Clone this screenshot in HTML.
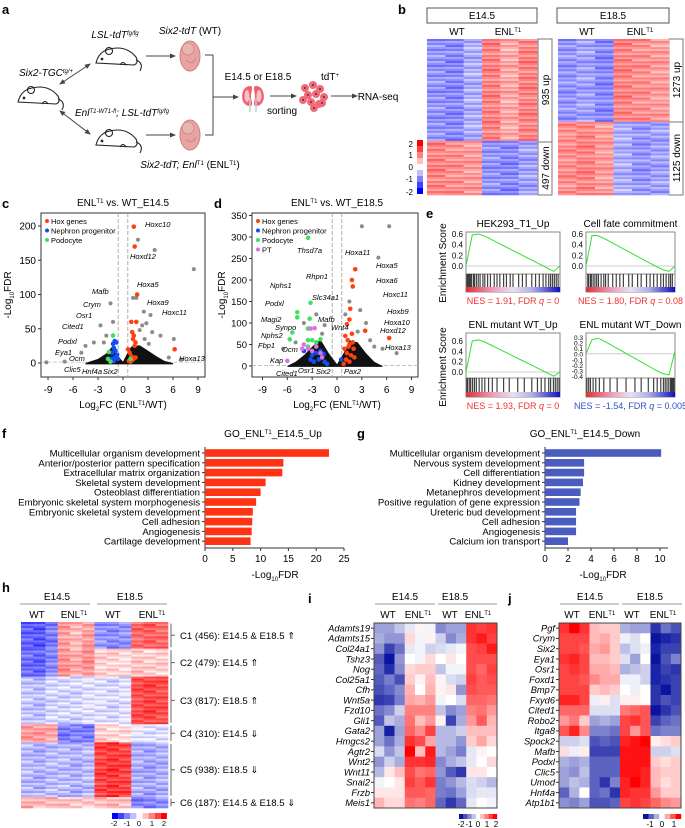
<!DOCTYPE html>
<html><head><meta charset="utf-8">
<style>
body{margin:0;background:#fff}
svg{display:block;font-family:"Liberation Sans",Arial,sans-serif}
.it{font-style:italic}
.pl{font-size:13px;font-weight:bold}
</style></head>
<body>
<svg id="fig" width="685" height="828" viewBox="0 0 685 828">
<defs>
<marker id="arr" markerWidth="6" markerHeight="6" refX="5" refY="3" orient="auto"><path d="M0,0.5 L6,3 L0,5.5z" fill="#444"/></marker>
<marker id="arrs" markerWidth="6" markerHeight="6" refX="1" refY="3" orient="auto"><path d="M6,0.5 L0,3 L6,5.5z" fill="#444"/></marker>
<linearGradient id="rankg" x1="0" x2="1" y1="0" y2="0"><stop offset="0" stop-color="#e03030"/><stop offset="0.3" stop-color="#f0a0c0"/><stop offset="0.5" stop-color="#e8e0f0"/><stop offset="0.7" stop-color="#b0b0e8"/><stop offset="1" stop-color="#1010c0"/></linearGradient>
</defs>
<text class="pl" x="2" y="14">a</text>
<text class="pl" x="398" y="14">b</text>
<text class="pl" x="2" y="208">c</text>
<text class="pl" x="214" y="208">d</text>
<text class="pl" x="426" y="218">e</text>
<text class="pl" x="2" y="438">f</text>
<text class="pl" x="357" y="438">g</text>
<text class="pl" x="2" y="592">h</text>
<text class="pl" x="308" y="603">i</text>
<text class="pl" x="508" y="603">j</text>

<g font-size="10" text-anchor="middle">
<text x="115" y="38" class="it">LSL-tdT<tspan font-size="6" baseline-shift="super">fg/fg</tspan></text>
<text x="190" y="34"><tspan class="it">Six2-tdT</tspan> (WT)</text>
<text x="46" y="76" class="it">Six2-TGC<tspan font-size="6" baseline-shift="super">tg/+</tspan></text>
<text x="122" y="116" class="it">Enl<tspan font-size="6" baseline-shift="super">T1-WT1-fl</tspan>; LSL-tdT<tspan font-size="6" baseline-shift="super">fg/fg</tspan></text>
<text x="258" y="80">E14.5 or E18.5</text>
<text x="330" y="80">tdT<tspan font-size="6" baseline-shift="super">+</tspan></text>
<text x="282" y="114">sorting</text>
<text x="378" y="100">RNA-seq</text>
<text x="190" y="168"><tspan class="it">Six2-tdT; Enl</tspan><tspan font-size="6" baseline-shift="super">T1</tspan> (ENL<tspan font-size="6" baseline-shift="super">T1</tspan>)</text>
</g>
<g stroke="#444" stroke-width="1" fill="none">
<line x1="60" y1="84" x2="90" y2="64" marker-end="url(#arr)" marker-start="url(#arrs)"/>
<line x1="60" y1="111" x2="90" y2="134" marker-end="url(#arr)" marker-start="url(#arrs)"/>
<line x1="146" y1="56" x2="175" y2="56" marker-end="url(#arr)"/>
<line x1="146" y1="135" x2="175" y2="135" marker-end="url(#arr)"/>
<path d="M205,55 H213 V135 H205 M213,97 H238" marker-end="url(#arr)"/>
<line x1="270" y1="96" x2="296" y2="96" marker-end="url(#arr)"/>
<line x1="331" y1="96" x2="357" y2="96" marker-end="url(#arr)"/>
</g>

<g font-size="10" text-anchor="middle">
<rect x="427" y="8" width="110" height="15" fill="#fff" stroke="#555"/>
<text x="482" y="19">E14.5</text>
<rect x="557" y="8" width="112" height="15" fill="#fff" stroke="#555"/>
<text x="613" y="19">E18.5</text>
<text x="457" y="35">WT</text>
<text x="508" y="35">ENL<tspan font-size="6" baseline-shift="super">T1</tspan></text>
<text x="587" y="35">WT</text>
<text x="640" y="35">ENL<tspan font-size="6" baseline-shift="super">T1</tspan></text>
<rect x="538" y="39" width="14" height="103" fill="#fff" stroke="#777"/>
<text transform="translate(549,90) rotate(-90)">935 up</text>
<rect x="538" y="142" width="14" height="53" fill="#fff" stroke="#777"/>
<text transform="translate(549,168) rotate(-90)">497 down</text>
<rect x="669" y="39" width="14" height="83" fill="#fff" stroke="#777"/>
<text transform="translate(680,80) rotate(-90)">1273 up</text>
<rect x="669" y="122" width="14" height="73" fill="#fff" stroke="#777"/>
<text transform="translate(680,158) rotate(-90)">1125 down</text>
</g>
<g font-size="8" text-anchor="end">
<text x="413" y="147">2</text>
<text x="413" y="158">1</text>
<text x="413" y="170">0</text>
<text x="413" y="182">-1</text>
<text x="413" y="195">-2</text>
</g>

<g font-size="10" text-anchor="middle">
<text x="123" y="206">ENL<tspan font-size="6" baseline-shift="super">T1</tspan> vs. WT_E14.5</text>
<text x="337" y="206">ENL<tspan font-size="6" baseline-shift="super">T1</tspan> vs. WT_E18.5</text>
<text x="123" y="408">Log<tspan font-size="6" baseline-shift="sub">2</tspan>FC (ENL<tspan font-size="6" baseline-shift="super">T1</tspan>/WT)</text>
<text x="337" y="408">Log<tspan font-size="6" baseline-shift="sub">2</tspan>FC (ENL<tspan font-size="6" baseline-shift="super">T1</tspan>/WT)</text>
<text transform="translate(11,295) rotate(-90)">-Log<tspan font-size="6" baseline-shift="sub">10</tspan>FDR</text>
<text transform="translate(225,295) rotate(-90)">-Log<tspan font-size="6" baseline-shift="sub">10</tspan>FDR</text>
</g>

<g font-size="10" text-anchor="middle">
<text x="273" y="437">GO_ENL<tspan font-size="6" baseline-shift="super">T1</tspan>_E14.5_Up</text>
<text x="585" y="437">GO_ENL<tspan font-size="6" baseline-shift="super">T1</tspan>_E14.5_Down</text>
<text x="275" y="578">-Log<tspan font-size="6" baseline-shift="sub">10</tspan>FDR</text>
<text x="603" y="578">-Log<tspan font-size="6" baseline-shift="sub">10</tspan>FDR</text>
</g>

<g font-size="10" text-anchor="middle" stroke-width="1">
<text x="57" y="600">E14.5</text>
<text x="130" y="600">E18.5</text>
<line x1="20" y1="604" x2="90" y2="604" stroke="#999"/>
<line x1="97" y1="604" x2="167" y2="604" stroke="#999"/>
<text x="37" y="618">WT</text>
<text x="74" y="618">ENL<tspan font-size="6" baseline-shift="super">T1</tspan></text>
<text x="113" y="618">WT</text>
<text x="152" y="618">ENL<tspan font-size="6" baseline-shift="super">T1</tspan></text>

<text x="405" y="600">E14.5</text>
<text x="455" y="600">E18.5</text>
<line x1="375" y1="604" x2="435" y2="604" stroke="#999"/>
<line x1="438" y1="604" x2="497" y2="604" stroke="#999"/>
<text x="388" y="618">WT</text>
<text x="418" y="618">ENL<tspan font-size="6" baseline-shift="super">T1</tspan></text>
<text x="450" y="618">WT</text>
<text x="478" y="618">ENL<tspan font-size="6" baseline-shift="super">T1</tspan></text>

<text x="590" y="600">E14.5</text>
<text x="650" y="600">E18.5</text>
<line x1="560" y1="604" x2="619" y2="604" stroke="#999"/>
<line x1="622" y1="604" x2="682" y2="604" stroke="#999"/>
<text x="572" y="618">WT</text>
<text x="602" y="618">ENL<tspan font-size="6" baseline-shift="super">T1</tspan></text>
<text x="632" y="618">WT</text>
<text x="663" y="618">ENL<tspan font-size="6" baseline-shift="super">T1</tspan></text>
</g>
</svg>
<script>
// ---------- data ----------
const bCols = ['WT','WT','WT','ENL','ENL','ENL'];
const bE14Counts = [935, 497];
const bE14Up = [-0.8,-0.9,-0.6,1.0,0.7,1.0];
const bE14Down = [1.0,0.9,0.8,-0.8,-0.9,-0.7];
const bE18Counts = [1273, 1125];
const bE18Up = [-0.8,-0.7,-0.9,1.0,0.9,0.8];
const bE18Down = [0.9,1.0,0.8,-0.6,-0.8,-0.7];

const cHox = [[1.3,199],[1.4,170],[1.7,100],[1.0,60],[1.6,60],[6.2,20],[0.6,20],[0.8,15],[1.0,10],[1.2,5],[0.7,3],[1.4,25],[1.5,30],[1.3,40],[1.1,45],[1.2,35],[0.9,2],[1.5,8]];
const cNeph = [[-1.0,32],[-1.2,28],[-0.8,30],[-1.1,22],[-0.9,18],[-1.3,15],[-0.7,12],[-1.0,8],[-0.6,6],[-1.4,6],[-1.1,3]];
const cPod = [[-1.2,40],[-1.7,16],[-1.8,6],[0.9,6],[-1.5,2]];
const cGrey = [[1.8,180],[3.8,165],[8.5,137],[1.2,95],[1.6,95],[2.5,75],[3.3,70],[2.8,58],[2.3,55],[3.5,45],[4.5,40],[6.1,35],[5.5,8],[7,5],[-1.5,87],[-2.7,55],[-3.5,30],[-4.5,25],[-9.2,1],[-7,2],[-5,15],[-2,40],[-1.2,60],[2,48],[2.6,35],[3.1,28],[-2.3,30]];
const cCloud = [[-4.5,0],[-3,6],[-2,14],[-1.3,24],[-0.6,10],[0,2],[0.5,14],[1,24],[2,26],[3,18],[4,10],[5,3],[6,0]];

const dHox = [[2.2,225],[1.8,200],[1.9,185],[1.6,133],[1.5,108],[1.2,97],[3.4,82],[6.3,65],[1.0,70],[1.3,60],[1.8,75],[1.5,50],[0.9,40],[1.2,30],[1.7,25],[2.0,40],[1.1,15],[1.5,10],[0.8,5],[2.1,20],[1.4,45],[1.9,55]];
const dNeph = [[-3,25],[-2.5,30],[-2,35],[-1.8,20],[-1.5,10],[-2.2,15],[-4,35],[-3.2,15],[-1.2,5],[0.5,15],[-2.8,10],[-1.6,28]];
const dPod = [[-3.5,298],[-3.2,147],[-4.8,125],[-4.8,113],[-3.3,110],[-3.5,87],[-5.4,78],[-5.7,62],[-3.5,60],[-3.0,60],[-2.5,55],[-3.5,45],[-2,62]];
const dPT = [[-2.7,88],[-3.2,87],[-6,12],[-4,50],[-3.5,40],[-3,35],[-2.5,45],[-2,30],[-1.8,20],[-4.2,40]];
const dGrey = [[3.0,325],[6.3,325],[5.0,252],[1.5,150],[1.0,120],[2.5,80],[4,60],[5.5,40],[7.2,30],[-4,100],[-2.5,120],[-1.5,95],[-6.5,40],[-5,55],[3.5,100],[2.8,130],[-1.8,75],[4.5,45]];
const dCloud = [[-6,0],[-5,10],[-4,25],[-3,45],[-2,62],[-1,30],[0,4],[0.8,30],[1.5,60],[2.5,55],[3.5,30],[4.5,10],[5.5,0]];

const es1 = [0,0.58,0.6,0.56,0.5,0.44,0.38,0.32,0.26,0.2,0.14,0.08,0.02,-0.04,-0.1,0];
const es2 = [0,0.57,0.57,0.52,0.46,0.4,0.34,0.28,0.22,0.16,0.1,0.04,-0.02,-0.07,-0.1,0];
const es3 = [0,0.6,0.62,0.58,0.52,0.46,0.4,0.34,0.28,0.22,0.16,0.1,0.04,-0.02,-0.08,0];
const es4 = [0,0.25,0.28,0.23,0.17,0.11,0.05,-0.01,-0.07,-0.13,-0.19,-0.25,-0.31,-0.36,-0.38,0.05];
const hits1 = [0.01,0.02,0.03,0.04,0.05,0.06,0.08,0.09,0.11,0.13,0.15,0.18,0.2,0.23,0.26,0.3,0.33,0.36,0.4,0.43,0.47,0.5,0.56,0.6,0.64,0.7,0.74,0.78,0.82,0.85,0.88,0.9,0.92,0.94,0.96,0.98];
const hits2 = [0.02,0.03,0.05,0.06,0.08,0.1,0.12,0.14,0.17,0.2,0.22,0.25,0.3,0.34,0.38,0.42,0.48,0.52,0.58,0.62,0.68,0.72,0.76,0.8,0.84,0.87,0.9,0.93,0.95,0.97];
const hits3 = [0.01,0.02,0.04,0.05,0.07,0.09,0.11,0.14,0.17,0.2,0.24,0.28,0.33,0.4,0.46,0.55,0.62,0.7,0.76,0.8,0.84,0.88,0.9,0.93,0.95,0.97,0.99];
const hits4 = [0.01,0.03,0.05,0.08,0.11,0.15,0.2,0.27,0.35,0.45,0.55,0.62,0.7,0.76,0.8,0.84,0.87,0.89,0.91,0.93,0.95,0.96,0.97,0.98,0.99];

const fTerms = ['Multicellular organism development','Anterior/posterior pattern specification','Extracellular matrix organization','Skeletal system development','Osteoblast differentiation','Embryonic skeletal system morphogenesis','Embryonic skeletal system development','Cell adhesion','Angiogenesis','Cartilage development'];
const fValues = [22.3,14.1,13.9,10.9,10.0,9.2,8.6,8.5,8.4,8.2];
const fTicks = [0,5,10,15,20,25];
const gTerms = ['Multicellular organism development','Nervous system development','Cell differentiation','Kidney development','Metanephros development','Positive regulation of gene expression','Ureteric bud development','Cell adhesion','Angiogenesis','Calcium ion transport'];
const gValues = [10.1,3.4,3.4,3.3,3.1,3.0,2.7,2.7,2.7,2.0];
const gTicks = [0,2,4,6,8,10];

const hCounts = [456,479,817,310,938,187];
const hLabels = ['C1 (456): E14.5 & E18.5 \u21D1','C2 (479): E14.5 \u21D1','C3 (817): E18.5 \u21D1','C4 (310): E14.5 \u21D3','C5 (938): E18.5 \u21D3','C6 (187): E14.5 & E18.5 \u21D3'];
const hMeans = [
 [-1.2,-1.3,-1.0, 0.8,0.6,0.8, -0.8,-0.9,-0.8, 1.2,1.3,1.2],
 [-1.1,-1.2,-0.9, 0.9,0.7,0.9, 0.4,0.4,0.3, 0.5,0.4,0.4],
 [-0.4,-0.5,-0.3, -0.3,-0.3,-0.2, -0.2,-0.3,-0.2, 1.4,1.5,1.4],
 [0.8,0.8,0.7, -1.0,-0.9,-1.0, 0.4,0.3,0.3, -0.1,-0.2,-0.2],
 [-0.5,-0.6,-0.5, -0.5,-0.6,-0.5, 1.5,1.6,1.5, -0.6,-0.7,-0.6],
 [0.7,0.6,0.6, 0.5,0.4,0.5, 0.6,0.6,0.5, -1.0,-1.0,-0.9]];

const iGenes = ['Adamts19','Adamts15','Col24a1','Tshz3','Nog','Col25a1','Cfh','Wnt5a','Fzd10','Gli1','Gata2','Hmgcs2','Agtr2','Wnt2','Wnt11','Snai2','Frzb','Meis1'];
const iValues = [
 [-0.8,-0.8,-0.5,-0.2,0.1,-0.1,-1,-0.8,-0.8,1.6,1.5,1.6],
 [-0.7,-0.9,-0.9,0.3,-0.1,0.1,-0.4,-1,-0.7,1.6,1.8,1.5],
 [-0.9,-1.6,-1.2,-0.2,-0.1,-0.4,-0.3,-0.2,-0.1,1.4,1.5,1.8],
 [-1.4,-2,-0.9,0,-0.1,0.3,0,0.2,0,1.4,1.4,1.4],
 [-1.3,-1.8,-1,0.3,0.4,0.4,-0.5,-0.1,-0.1,1.4,1.2,1.5],
 [-1.4,-1.1,-1.5,0.4,0.1,0.5,0.1,-0.3,-0.4,1.5,1.3,1.4],
 [-1.5,-1.3,-1,0.6,0,0.6,0.1,0.2,-0.9,1.4,1.3,1.3],
 [-1.7,-1.6,-1.1,0.7,0.6,0.8,-0.1,0,-0.3,1.2,1.2,1.1],
 [-1.2,-1,-0.4,1,1,1,-0.5,-1,-0.8,1,1.1,0.8],
 [-1.4,-0.5,-0.7,1.1,0.5,0.8,0.1,-1.6,-0.7,0.8,1.3,0.6],
 [-0.8,-1.9,-0.8,1.2,0.9,1.5,-0.6,-0.6,-0.4,0.5,0.5,0.5],
 [-0.8,-1.2,-0.7,1.6,1.4,0.7,-0.6,-0.6,-0.9,0.4,0.7,0.3],
 [-0.3,-0.9,-0.5,2,0.5,1.8,-0.6,-0.8,-1.1,-0.2,0.1,0],
 [-0.9,-0.4,-0.7,1.6,1.6,1.7,-1,-0.7,-0.5,-0.2,0,0.3],
 [-0.6,0.2,0.5,1.4,1.1,1.2,-0.9,-1.4,-1.7,0.2,0.2,0],
 [-0.1,0,0.2,1.5,1.3,1.6,-1.1,-0.9,-0.6,-0.3,-0.4,-0.6],
 [0.2,0.2,0.2,1.3,1.3,1.2,-1.1,-1.2,-0.8,-0.3,-0.2,-0.2],
 [0.6,0.3,0.3,1.1,1,1.2,-1.3,-1.7,-1.3,-0.2,0,-0.1]];
const jGenes = ['Pgf','Crym','Six2','Eya1','Osr1','Foxd1','Bmp7','Fxyd6','Cited1','Robo2','Itga8','Spock2','Mafb','Podxl','Clic5','Umod','Hnf4a','Atp1b1'];
const jValues = [
 [1.2,1.5,1.2,0.4,0.3,0.3,-0.5,-0.6,-0.6,-1.3,-0.9,-1.1],
 [1.1,1.1,1.1,0.4,0.5,0.3,-0.1,-0.2,0,-1.5,-1.4,-1.3],
 [1.1,1.1,1,0.5,0.6,0.3,-0.4,-0.2,-0.1,-1.4,-1.2,-1.2],
 [1.2,1.3,1.1,0.4,0.4,0.3,-0.2,-0.6,0,-1.6,-1.1,-0.8],
 [1.1,1.2,1.1,0.5,0.5,0.4,-0.5,-0.4,-0.3,-1.4,-1.2,-1.3],
 [1.1,1.1,1,0.7,0.5,0.5,-0.1,-0.1,-0.3,-1.4,-1.3,-1.2],
 [1.1,1.1,1.1,0.3,0.4,0.3,0,-0.1,0,-1.3,-1.5,-1.2],
 [1.3,1.3,1.1,-0.1,0.1,-0.2,0.1,0.1,0,-1.3,-1.1,-1.2],
 [0.9,0.9,0.9,-0.2,-0.2,-0.2,0.8,0.9,1,-1.6,-1.3,-1.1],
 [0.6,0.8,0.3,-0.6,-0.5,-0.6,1.1,1.2,1,-1.2,-1,-0.9],
 [1,1.3,0.7,-0.8,-0.8,-0.9,1.1,0.6,1,-0.9,-0.8,-0.8],
 [-0.3,-0.3,-0.2,-1.1,-1,-1.1,1.3,1.4,1.6,0.1,0.2,0.3],
 [0.2,-0.1,0.1,-1.2,-1.2,-1.2,1.4,1.4,1.4,-0.3,-0.3,-0.2],
 [-0.5,-0.6,-0.5,-1,-1,-1,1.4,1.4,1.4,0.3,0.2,0.3],
 [-0.6,-0.7,-0.4,-1,-1,-1,1.4,1.4,1.3,0.4,0.3,0.3],
 [-0.6,-0.4,-0.5,-1,-1.3,-0.8,1.3,1.7,1.3,0.4,0.2,0.3],
 [-1,-0.5,0,-1,-0.9,-1.3,1.3,1.2,1.2,0.6,0.3,0.3],
 [-0.7,-0.8,-0.6,-1.1,-1.1,-1,1.1,1.2,1.1,0.9,0.7,0.6]];

// ---------- helpers ----------
const NS = 'http://www.w3.org/2000/svg';
const svg = document.getElementById('fig');
function mk(tag, attrs, parent) {
  const e = document.createElementNS(NS, tag);
  for (const k in attrs) e.setAttribute(k, attrs[k]);
  (parent || svg).appendChild(e);
  return e;
}
function tx(x, y, s, size, anchor, parent) {
  const e = mk('text', {x: x, y: y, 'font-size': size, 'text-anchor': anchor || 'start'}, parent);
  e.textContent = s;
  return e;
}
function colSoft(v, max) {
  const t = Math.min(1, Math.abs(v) / max);
  const w = Math.round(255 * (1 - t));
  return v >= 0 ? `rgb(255,${w},${w})` : `rgb(${w},${w},255)`;
}
function colDeep(v, max) {
  const t = Math.min(1, Math.abs(v) / max);
  if (v >= 0) { const w = Math.round(255 * (1 - t)); return `rgb(255,${w},${w})`; }
  return `rgb(${Math.round(255 - 245 * t)},${Math.round(255 - 235 * t)},${Math.round(255 - 95 * t)})`;
}
function texture(r, c) { return ((((r * 73 + c * 29) % 13) / 13) - 0.5) * 0.7; }

// ---------- panel a icons ----------
function mouse(x, y, name) {
  const g = mk('g', {stroke: '#222', 'stroke-width': 1.1, fill: 'none'});
  
  
  mk('path', {d: `M${x},${y+18} Q${x+3},${y+6} ${x+14},${y+4} Q${x+30},${y} ${x+40},${y+12} Q${x+43},${y+18} ${x+38},${y+20} Z`}, g);
  mk('circle', {cx: x + 13, cy: y + 6, r: 3.5}, g);
  mk('path', {d: `M${x+40},${y+15} Q${x+48},${y+18} ${x+44},${y+26}`}, g);
  mk('path', {d: `M${x+24},${y+20} q3,-5 6,0`}, g);
  mk('circle', {cx: x + 6, cy: y + 14, r: 0.8, fill: '#222'}, g);
}
mouse(18, 84, 'mouse-six2-tgc');
mouse(96, 45, 'mouse-lsl-tdt');
mouse(96, 127, 'mouse-enl-lsl');
function embryo(cx, cy, name) {
  const g = mk('g', {});
  
  
  mk('ellipse', {cx: cx, cy: cy, rx: 10, ry: 15, fill: '#e8a4a0', stroke: '#d08080'}, g);
  mk('ellipse', {cx: cx - 2, cy: cy - 7, rx: 6, ry: 6, fill: '#eab4b0', stroke: '#c87878', 'stroke-width': 0.6}, g);
  mk('path', {d: `M${cx-4},${cy+4} q6,6 10,-2`, stroke: '#c87070', fill: 'none', 'stroke-width': 0.7}, g);
}
embryo(190, 56, 'embryo-wt');
embryo(190, 135, 'embryo-enl');
(function () {
  const g = mk('g', {});
  
  
  mk('path', {d: 'M250,86 C240,86 239,106 250,106 C254,106 251,100 251,96 C251,92 254,86 250,86 Z', fill: '#f06070'}, g);
  mk('path', {d: 'M256,86 C266,86 267,106 256,106 C252,106 255,100 255,96 C255,92 252,86 256,86 Z', fill: '#f06070'}, g);
  mk('ellipse', {cx: 247, cy: 96, rx: 2.5, ry: 6, fill: '#f8c0c8'}, g);
  mk('ellipse', {cx: 259, cy: 96, rx: 2.5, ry: 6, fill: '#f8c0c8'}, g);
  mk('path', {d: 'M250,98 V112 M256,98 V112', stroke: '#ccc', 'stroke-width': 1.5, fill: 'none'}, g);
})();
const cellPos = [[305,88],[313,85],[320,89],[308,95],[316,94],[324,97],[303,100],[311,102],[319,104],[314,108],[322,103]];
cellPos.forEach((p, k) => {
  const c = mk('circle', {cx: p[0], cy: p[1], r: 4, fill: '#f26a78'});
  
  
  const d = mk('circle', {cx: p[0], cy: p[1], r: 0.9, fill: '#222'});
  
  
});

// ---------- panel b ----------
function bHeat(x0, x1, y0, y1, counts, blocks, name) {
  const total = counts[0] + counts[1];
  const cw = (x1 - x0) / bCols.length;
  let yy = y0;
  blocks.forEach((means, bi) => {
    const h = (y1 - y0) * counts[bi] / total;
    const nr = Math.round(h / 2);
    for (let r = 0; r < nr; r++) {
      for (let c = 0; c < bCols.length; c++) {
        const rect = mk('rect', {x: x0 + c * cw, y: yy + r * h / nr, width: cw + 0.3, height: h / nr + 0.3, fill: colSoft(means[c] + texture(r + bi * 7, c), 2)});
        
        
      }
    }
    yy += h;
  });
}
bHeat(427, 537, 39, 195, bE14Counts, [bE14Up, bE14Down], 'b-e145-heatmap');
bHeat(558, 669, 39, 195, bE18Counts, [bE18Up, bE18Down], 'b-e185-heatmap');
const bCbarVals = [2, 1.5, 1, 0.5, 0, -0.5, -1, -1.5, -2];
bCbarVals.forEach((v, k) => {
  const r = mk('rect', {x: 417, y: 140 + k * 6, width: 6, height: 6, fill: colSoft(v, 2)});
  
  
});

// ---------- volcano ----------
function volcano(cfg) {
  const X = v => cfg.x0 + v * cfg.kx;
  const Y = v => cfg.y0 - v * cfg.ky;
  const g = mk('g', {});
  
  
  const box = mk('rect', {x: cfg.bx0, y: 213, width: cfg.bx1 - cfg.bx0, height: 164, fill: '#fff', stroke: '#333', 'stroke-width': 1}, g);
  
  
  [-0.58, 0.58].forEach(v => {
    const l = mk('line', {x1: X(v), x2: X(v), y1: 213, y2: 377, stroke: '#999', 'stroke-dasharray': '4,2', 'stroke-width': 0.8}, g);
    
    
  });
  const hl = mk('line', {x1: cfg.bx0, x2: cfg.bx1, y1: Y(1.3), y2: Y(1.3), stroke: '#bbb', 'stroke-dasharray': '4,2', 'stroke-width': 0.8}, g);
  
  
  cfg.grey.forEach(p => {
    const c = mk('circle', {cx: X(p[0]), cy: Y(p[1]), r: 2, fill: '#777', opacity: 0.85}, g);
    
    
  });
  const cl = mk('polygon', {points: cfg.cloud.map(p => X(p[0]) + ',' + Y(p[1])).join(' ') + ` ${X(cfg.cloud[cfg.cloud.length-1][0])},${Y(-2)} ${X(cfg.cloud[0][0])},${Y(-2)}`, fill: '#111'}, g);
  
  
  cfg.sets.forEach(s => {
    s.data.forEach(p => {
      const c = mk('circle', {cx: X(p[0]), cy: Y(p[1]), r: 2.3, fill: s.color}, g);
      
      
    });
  });
  cfg.xt.forEach(v => {
    const t = mk('line', {x1: X(v), x2: X(v), y1: 377, y2: 380, stroke: '#333'}, g);
    
    
    const l = tx(X(v), 393, String(v), 10, 'middle', g);
    
    
  });
  cfg.yt.forEach(v => {
    const t = mk('line', {x1: cfg.bx0 - 3, x2: cfg.bx0, y1: Y(v), y2: Y(v), stroke: '#333'}, g);
    
    
    const l = tx(cfg.bx0 - 5, Y(v) + 3.5, String(v), cfg.ytSize || 10, 'end', g);
    
    
  });
  cfg.legend.forEach((L, k) => {
    const c = mk('circle', {cx: cfg.bx0 + 6, cy: 221 + k * 9.5, r: 2, fill: L[1]}, g);
    
    
    const t = tx(cfg.bx0 + 10, 224 + k * 9.5, L[0], 7.5, 'start', g);
    
    
  });
  cfg.labels.forEach(L => {
    const t = tx(L[1], L[2], L[0], 7.5, L[3] || 'start', g);
    
    
    t.setAttribute('font-style', 'italic');
  });
}
volcano({name: 'c-volcano', x0: 123, kx: 8.33, y0: 363, ky: 0.685, bx0: 41, bx1: 205,
  grey: cGrey, cloud: cCloud,
  sets: [{name: 'hox', data: cHox, color: '#ff4010'}, {name: 'nephron-progenitor', data: cNeph, color: '#1050f0'}, {name: 'podocyte', data: cPod, color: '#40e060'}],
  xt: [-9,-6,-3,0,3,6,9], yt: [0,50,100,150,200],
  legend: [['Hox genes','#ff4010'],['Nephron progenitor','#1050f0'],['Podocyte','#40e060']],
  labels: [['Hoxc10',145,227],['Hoxd12',130,259],['Hoxa5',137,287],['Hoxa9',147,305],['Hoxc11',162,315],['Hoxa13',179,361],['Mafb',92,294],['Crym',83,307],['Osr1',76,318],['Cited1',62,329],['Podxl',58,344],['Eya1',55,355],['Ocm',69,361],['Clic5',64,372],['Hnf4a',82,374],['Six2',103,374]]});
volcano({name: 'd-volcano', x0: 337, kx: 8.28, y0: 366, ky: 0.43, bx0: 252, bx1: 418, ytSize: 9.5,
  grey: dGrey, cloud: dCloud,
  sets: [{name: 'hox', data: dHox, color: '#ff4010'}, {name: 'nephron-progenitor', data: dNeph, color: '#1050f0'}, {name: 'podocyte', data: dPod, color: '#40e060'}, {name: 'pt', data: dPT, color: '#e070e0'}],
  xt: [-9,-6,-3,0,3,6,9], yt: [0,50,100,150,200,250,300,350],
  legend: [['Hox genes','#ff4010'],['Nephron progenitor','#1050f0'],['Podocyte','#40e060'],['PT','#e070e0']],
  labels: [['Thsd7a',297,253],['Rhpn1',306,279],['Nphs1',270,288],['Podxl',265,306],['Slc34a1',312,300],['Magi2',261,322],['Mafb',318,322],['Synpo',275,330],['Nphs2',261,338],['Wnt4',331,330],['Fbp1',258,348],['Ocm',282,352],['Kap',270,363],['Cited1',276,376],['Osr1',298,373],['Six2',316,374],['Pax2',344,374],['Hoxa11',345,255],['Hoxa5',376,268],['Hoxa6',376,283],['Hoxc11',383,297],['Hoxb9',387,314],['Hoxa10',384,325],['Hoxd12',380,333],['Hoxa13',385,350]]});

// ---------- GSEA ----------
function gsea(cfg) {
  const g = mk('g', {});
  
  
  const X = f => cfg.x0 + f * (cfg.x1 - cfg.x0);
  const Y = v => cfg.zeroY - v * cfg.k;
  const fr = mk('rect', {x: cfg.x0, y: cfg.top, width: cfg.x1 - cfg.x0, height: cfg.bot - cfg.top, fill: '#fff', stroke: '#888'}, g);
  
  
  const z = mk('line', {x1: cfg.x0, x2: cfg.x1, y1: Y(0), y2: Y(0), stroke: '#ccc'}, g);
  
  
  const dv = mk('line', {x1: cfg.x0, x2: cfg.x1, y1: cfg.div, y2: cfg.div, stroke: '#888'}, g);
  
  
  cfg.hits.forEach(h => {
    const l = mk('line', {x1: X(h), x2: X(h), y1: cfg.div, y2: cfg.bot - 5, stroke: '#222', 'stroke-width': 1.2, opacity: 0.85}, g);
    
    
  });
  const st = mk('rect', {x: cfg.x0, y: cfg.bot - 5, width: cfg.x1 - cfg.x0, height: 5, fill: 'url(#rankg)'}, g);
  
  
  const pts = cfg.es.map((v, k) => X(k / (cfg.es.length - 1)) + ',' + Y(v)).join(' ');
  const pl = mk('polyline', {points: pts, fill: 'none', stroke: '#30e030', 'stroke-width': 1}, g);
  
  
  cfg.ticks.forEach(v => {
    const t = tx(cfg.x0 - 3, Y(v) + 3, v.toFixed(1), cfg.tickSize || 8, 'end', g);
    
    
  });
  const ti = tx((cfg.x0 + cfg.x1) / 2, cfg.top - 5, cfg.title, 10, 'middle', g);
  
  
  const ne = mk('text', {x: (cfg.x0 + cfg.x1) / 2, y: cfg.bot + 12, 'font-size': 9, 'text-anchor': 'middle', fill: cfg.nesColor}, g);
  ne.innerHTML = cfg.nes + ' <tspan font-style="italic">q</tspan> = ' + cfg.q;
  
  
}
gsea({name: 'gsea-hek293', x0: 466, x1: 560, top: 232, bot: 292, div: 274, zeroY: 266, k: 53.3, es: es1, hits: hits1, ticks: [0.6,0.4,0.2,0.0], title: 'HEK293_T1_Up', nes: 'NES = 1.91, FDR', q: '0', nesColor: '#f03030'});
gsea({name: 'gsea-cell-fate', x0: 586, x1: 675, top: 232, bot: 292, div: 274, zeroY: 266, k: 53.3, es: es2, hits: hits2, ticks: [0.6,0.4,0.2,0.0], title: 'Cell fate commitment', nes: 'NES = 1.80, FDR', q: '0.08', nesColor: '#f03030'});
gsea({name: 'gsea-enl-up', x0: 466, x1: 560, top: 333, bot: 397, div: 378, zeroY: 372, k: 51.7, es: es3, hits: hits3, ticks: [0.6,0.4,0.2,0.0], title: 'ENL mutant WT_Up', nes: 'NES = 1.93, FDR', q: '0', nesColor: '#f03030'});
gsea({name: 'gsea-enl-down', x0: 586, x1: 675, top: 333, bot: 397, div: 378, zeroY: 353.7, k: 55.7, es: es4, hits: hits4, ticks: [0.3,0.2,0.1,0.0,-0.1,-0.2,-0.3,-0.4], tickSize: 6.5, title: 'ENL mutant WT_Down', nes: 'NES = -1.54, FDR', q: '0.005', nesColor: '#3050c0'});
[[263, 'es-title-top'], [367, 'es-title-bottom']].forEach(a => {
  const t = mk('text', {transform: `translate(446,${a[0]}) rotate(-90)`, 'font-size': 10, 'text-anchor': 'middle'});
  t.textContent = 'Enrichment Score';
  
  
});

// ---------- f / g bars ----------
function barPanel(cfg) {
  const X = v => cfg.ax + v * cfg.k;
  const rowY = i => 453 + i * 9.8;
  const ax = mk('line', {x1: cfg.ax, x2: cfg.ax, y1: 447, y2: 548, stroke: '#333'});
  
  
  const xa = mk('line', {x1: cfg.ax, x2: X(cfg.ticks[cfg.ticks.length - 1]) + cfg.extra, y1: 548, y2: 548, stroke: '#333'});
  
  
  cfg.terms.forEach((t, i) => {
    const b = mk('rect', {x: cfg.ax, y: rowY(i) - 3.8, width: X(cfg.values[i]) - cfg.ax, height: 7.6, fill: cfg.color});
    
    
    const tk = mk('line', {x1: cfg.ax - 3, x2: cfg.ax, y1: rowY(i), y2: rowY(i), stroke: '#333'});
    
    
    const l = tx(cfg.ax - 5, rowY(i) + 3.5, t, 9.6, 'end');
    
    
  });
  cfg.ticks.forEach(v => {
    const tk = mk('line', {x1: X(v), x2: X(v), y1: 548, y2: 551, stroke: '#333'});
    
    
    const l = tx(X(v), 562, String(v), 10, 'middle');
    
    
  });
}
barPanel({name: 'f-go-up', ax: 205, k: 5.56, terms: fTerms, values: fValues, ticks: fTicks, color: '#ff3311', extra: 0});
barPanel({name: 'g-go-down', ax: 545, k: 11.5, terms: gTerms, values: gValues, ticks: gTicks, color: '#4a5cbf', extra: 8});

// ---------- h ----------
(function () {
  const x0 = 21, x1 = 168, y0 = 622, y1 = 808;
  const total = hCounts.reduce((a, b) => a + b, 0);
  const cw = (x1 - x0) / 12;
  let yy = y0;
  hCounts.forEach((n, ci) => {
    const h = (y1 - y0) * n / total;
    const nr = Math.max(2, Math.round(h / 2));
    for (let r = 0; r < nr; r++) {
      for (let c = 0; c < 12; c++) {
        const rect = mk('rect', {x: x0 + c * cw, y: yy + r * h / nr, width: cw + 0.3, height: h / nr + 0.3, fill: colSoft(hMeans[ci][c] + texture(r + ci * 5, c), 2)});
        
        
      }
    }
    const br = mk('path', {d: `M171,${yy + 1.5} V${yy + h - 1.5} M171,${yy + h / 2} H175`, stroke: '#666', fill: 'none'});
    
    
    const l = tx(180, yy + h / 2 + 3.5, hLabels[ci], 9.6, 'start');
    
    
    yy += h;
  });
  const cb = [-2, -1.5, -1, -0.5, 0, 0.5, 1, 1.5, 2];
  cb.forEach((v, k) => {
    const r = mk('rect', {x: 112 + k * 6.1, y: 813, width: 6.1, height: 6, fill: colSoft(v, 2)});
    
    
  });
  [[-2, 114], [-1, 127], [0, 139], [1, 152], [2, 164]].forEach(a => {
    const t = tx(a[1], 826, String(a[0]), 7.5, 'middle');
    
    
  });
})();

// ---------- i / j ----------
function geneHeat(cfg) {
  const cw = (cfg.x1 - cfg.x0) / 12, rh = (808 - 623) / cfg.genes.length;
  cfg.values.forEach((row, r) => {
    row.forEach((v, c) => {
      const rect = mk('rect', {x: cfg.x0 + c * cw, y: 623 + r * rh, width: cw + 0.3, height: rh + 0.3, fill: colDeep(v, cfg.max)});
      
      
    });
    const tk = mk('line', {x1: cfg.x0 - 3, x2: cfg.x0, y1: 623 + (r + 0.5) * rh, y2: 623 + (r + 0.5) * rh, stroke: '#333'});
    
    
    const l = tx(cfg.x0 - 4, 623 + (r + 0.5) * rh + 3.3, cfg.genes[r], 9.3, 'end');
    l.setAttribute('font-style', 'italic');
    
    
  });
  const fr = mk('rect', {x: cfg.x0, y: 623, width: cfg.x1 - cfg.x0, height: 185, fill: 'none', stroke: '#444'});
  
  
  const steps = cfg.cbar;
  const sw = (cfg.cbx1 - cfg.cbx0) / steps.length;
  steps.forEach((v, k) => {
    const r = mk('rect', {x: cfg.cbx0 + k * sw, y: 814, width: sw + 0.2, height: 5, fill: colDeep(v, cfg.max)});
    
    
  });
  cfg.cbLabels.forEach(a => {
    const t = tx(a[1], 827, a[0], 8, 'middle');
    
    
  });
}
geneHeat({name: 'i-heatmap', x0: 374, x1: 497, genes: iGenes, values: iValues, max: 2, cbx0: 459, cbx1: 497, cbar: [-2,-1.5,-1,-0.5,0,0.5,1,1.5,2], cbLabels: [['-2', 461], ['-1', 469], ['0', 478], ['1', 487], ['2', 496]]});
geneHeat({name: 'j-heatmap', x0: 559, x1: 681, genes: jGenes, values: jValues, max: 1.5, cbx0: 643, cbx1: 681, cbar: [-1.5,-1,-0.5,0,0.5,1,1.5], cbLabels: [['-1', 650], ['0', 662], ['1', 674]]});
</script>
</body></html>
